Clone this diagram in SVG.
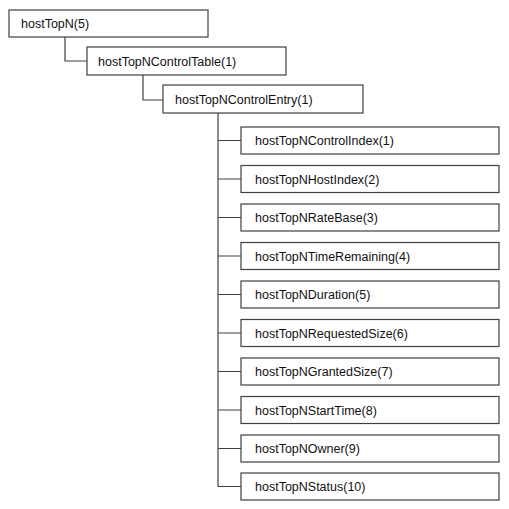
<svg xmlns="http://www.w3.org/2000/svg" width="509" height="509" viewBox="0 0 509 509">
<style>
.box{fill:#fff;stroke:#404040;stroke-width:1.2}
.lbl{font-family:"Liberation Sans",Arial,sans-serif;font-size:12.5px;fill:#111}
.con{fill:none;stroke:#404040;stroke-width:1.2}
</style>
<rect width="509" height="509" fill="#fff"/>
<g id="connectors">
<path class="con" d="M65 37V61H87"/>
<path class="con" d="M143 75V100H163"/>
<path class="con" d="M218 113V486.5H241"/>
<path class="con" d="M218 140.5H241M218 179H241M218 217.5H241M218 256H241M218 294.5H241M218 333H241M218 371.5H241M218 410H241M218 448.5H241"/>
</g>
<g id="n-hostTopN"><rect class="box" x="9" y="10" width="199" height="27"/><text class="lbl" x="21" y="28">hostTopN(5)</text></g>
<g id="n-hostTopNControlTable"><rect class="box" x="87" y="47" width="199" height="28"/><text class="lbl" x="98" y="66">hostTopNControlTable(1)</text></g>
<g id="n-hostTopNControlEntry"><rect class="box" x="163" y="85" width="200" height="28"/><text class="lbl" x="175" y="104">hostTopNControlEntry(1)</text></g>
<g id="n-1"><rect class="box" x="241" y="127" width="258" height="27"/><text class="lbl" x="255" y="145">hostTopNControlIndex(1)</text></g>
<g id="n-2"><rect class="box" x="241" y="165.5" width="258" height="27"/><text class="lbl" x="255" y="183.5">hostTopNHostIndex(2)</text></g>
<g id="n-3"><rect class="box" x="241" y="204" width="258" height="27"/><text class="lbl" x="255" y="222">hostTopNRateBase(3)</text></g>
<g id="n-4"><rect class="box" x="241" y="242.5" width="258" height="27"/><text class="lbl" x="255" y="260.5">hostTopNTimeRemaining(4)</text></g>
<g id="n-5"><rect class="box" x="241" y="281" width="258" height="27"/><text class="lbl" x="255" y="299">hostTopNDuration(5)</text></g>
<g id="n-6"><rect class="box" x="241" y="319.5" width="258" height="27"/><text class="lbl" x="255" y="337.5">hostTopNRequestedSize(6)</text></g>
<g id="n-7"><rect class="box" x="241" y="358" width="258" height="27"/><text class="lbl" x="255" y="376">hostTopNGrantedSize(7)</text></g>
<g id="n-8"><rect class="box" x="241" y="396.5" width="258" height="27"/><text class="lbl" x="255" y="414.5">hostTopNStartTime(8)</text></g>
<g id="n-9"><rect class="box" x="241" y="435" width="258" height="27"/><text class="lbl" x="255" y="453">hostTopNOwner(9)</text></g>
<g id="n-10"><rect class="box" x="241" y="473" width="258" height="27"/><text class="lbl" x="255" y="491">hostTopNStatus(10)</text></g>
</svg>
